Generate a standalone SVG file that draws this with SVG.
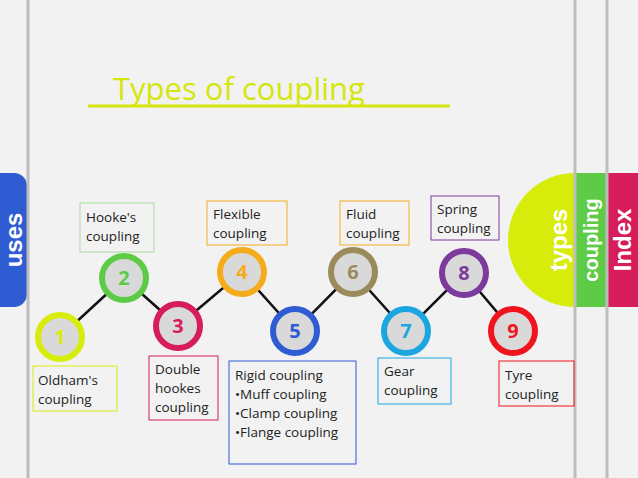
<svg xmlns="http://www.w3.org/2000/svg" width="638" height="478" viewBox="0 0 638 478">
<style>
text{font-family:"Open Sans","Noto Sans",sans-serif}
.lbl{font-size:13.5px;fill:#222}
.num{font-size:20px;font-weight:bold;text-anchor:middle}
.c{fill:#d9d9d9;stroke-width:6}
.box{fill:none;stroke-width:1}
.tab{font-family:"Liberation Sans",sans-serif;font-weight:bold;fill:#fff}
</style>
<rect width="638" height="478" fill="#f2f2f2"/>
<g id="tabs">
<path d="M0 173 H14 A13 13 0 0 1 27 186 V294 A13 13 0 0 1 14 307 H0 Z" fill="#2f5bd3"/>
<text class="tab" font-size="24" transform="translate(22,240) rotate(-90)" text-anchor="middle">uses</text>
<path d="M575 173 A67 67 0 0 0 575 307 Z" fill="#d8ec0c"/>
<rect x="575" y="173" width="32" height="134" fill="#5ecb46"/>
<path d="M607 173 H638 V307 H607 Z" fill="#d61c5a"/>
<text class="tab" font-size="24" transform="translate(567,240) rotate(-90)" text-anchor="middle">types</text>
<text class="tab" font-size="20" transform="translate(598,240) rotate(-90)" text-anchor="middle">coupling</text>
<text class="tab" font-size="24" transform="translate(631,240) rotate(-90)" text-anchor="middle">Index</text>
</g>
<g id="rules" stroke="#bdbdbd" stroke-width="3">
<line x1="28" y1="0" x2="28" y2="478"/>
<line x1="575" y1="0" x2="575" y2="478"/>
<line x1="607" y1="0" x2="607" y2="478"/>
</g>
<g id="title">
<text x="113" y="100" font-size="31" fill="#d4e60c">Types of coupling</text>
<line x1="88" y1="106" x2="450" y2="106" stroke="#d4e60c" stroke-width="3"/>
</g>
<g id="connectors" stroke="#111" stroke-width="2.5">
<polyline fill="none" points="60,337 124,278 178,326 242,272 295,331 353,272 406,331 464,273 513,331"/>
</g>
<g id="n1"><circle class="c" cx="60" cy="337" r="22" stroke="#d8ec0c"/><text class="num" x="60" y="344" fill="#d8ec0c">1</text>
<rect class="box" x="33" y="366" width="84" height="45" stroke="#d8ec0c"/><text class="lbl" x="38" y="385">Oldham's</text><text class="lbl" x="38" y="404">coupling</text></g>
<g id="n2"><circle class="c" cx="124" cy="278" r="22" stroke="#5ecb46"/><text class="num" x="124" y="285" fill="#5ecb46">2</text>
<rect class="box" x="80" y="203" width="74" height="49" stroke="#a8dba0"/><text class="lbl" x="86" y="222">Hooke's</text><text class="lbl" x="86" y="241">coupling</text></g>
<g id="n3"><circle class="c" cx="178" cy="326" r="22" stroke="#d61c5a"/><text class="num" x="178" y="333" fill="#d61c5a">3</text>
<rect class="box" x="149" y="356" width="69" height="64" stroke="#d61c5a"/><text class="lbl" x="155" y="374">Double</text><text class="lbl" x="155" y="393">hookes</text><text class="lbl" x="155" y="412">coupling</text></g>
<g id="n4"><circle class="c" cx="242" cy="272" r="22" stroke="#f5ac1c"/><text class="num" x="242" y="279" fill="#f5ac1c">4</text>
<rect class="box" x="207" y="201" width="80" height="44" stroke="#f5ac1c"/><text class="lbl" x="213" y="219">Flexible</text><text class="lbl" x="213" y="238">coupling</text></g>
<g id="n5"><circle class="c" cx="295" cy="331" r="22" stroke="#2f5bd3"/><text class="num" x="295" y="338" fill="#2f5bd3">5</text>
<rect class="box" x="229" y="361" width="127" height="103" stroke="#2f5bd3"/><text class="lbl" x="235" y="380">Rigid coupling</text><text class="lbl" x="235" y="399">•Muff coupling</text><text class="lbl" x="235" y="418">•Clamp coupling</text><text class="lbl" x="235" y="437">•Flange coupling</text></g>
<g id="n6"><circle class="c" cx="353" cy="272" r="22" stroke="#9b8a5a"/><text class="num" x="353" y="279" fill="#9b8a5a">6</text>
<rect class="box" x="340" y="201" width="69" height="44" stroke="#f5ac1c"/><text class="lbl" x="346" y="219">Fluid</text><text class="lbl" x="346" y="238">coupling</text></g>
<g id="n7"><circle class="c" cx="406" cy="331" r="22" stroke="#1ca6e0"/><text class="num" x="406" y="338" fill="#1ca6e0">7</text>
<rect class="box" x="378" y="358" width="73" height="46" stroke="#1ca6e0"/><text class="lbl" x="384" y="376">Gear</text><text class="lbl" x="384" y="395">coupling</text></g>
<g id="n8"><circle class="c" cx="464" cy="273" r="22" stroke="#7b3a9c"/><text class="num" x="464" y="280" fill="#7b3a9c">8</text>
<rect class="box" x="431" y="196" width="68" height="44" stroke="#7b3a9c"/><text class="lbl" x="437" y="214">Spring</text><text class="lbl" x="437" y="233">coupling</text></g>
<g id="n9"><circle class="c" cx="513" cy="331" r="22" stroke="#f0141e"/><text class="num" x="513" y="338" fill="#f0141e">9</text>
<rect class="box" x="499" y="361" width="75" height="45" stroke="#f0141e"/><text class="lbl" x="505" y="380">Tyre</text><text class="lbl" x="505" y="399">coupling</text></g>
</svg>
